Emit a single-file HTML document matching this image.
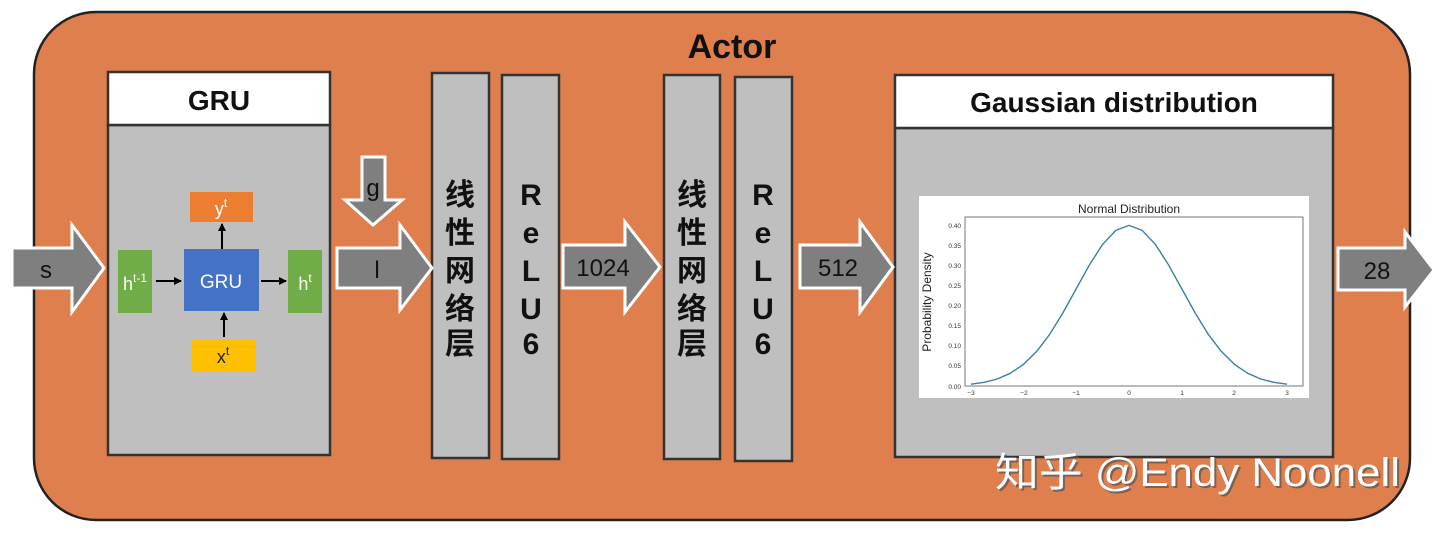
<!DOCTYPE html>
<html><head><meta charset="utf-8"><style>
html,body{margin:0;padding:0;background:#fff;width:1440px;height:537px;overflow:hidden}
svg{display:block}
text{font-family:"Liberation Sans","Noto Sans CJK SC",sans-serif}
</style></head><body>
<svg width="1440" height="537" viewBox="0 0 1440 537" xmlns="http://www.w3.org/2000/svg">
<defs>
<marker id="ah" markerWidth="8" markerHeight="8" refX="7" refY="4" orient="auto" markerUnits="userSpaceOnUse"><path d="M0,0 L8,4 L0,8z" fill="#000"/></marker>
</defs>
<rect x="34" y="12" width="1376" height="508" rx="62" fill="#DF7F4E" stroke="#222" stroke-width="2.5"/>
<text x="732" y="58" font-size="34" font-weight="bold" text-anchor="middle" fill="#111">Actor</text>

<rect x="108" y="125" width="222" height="330" fill="#BFBFBF" stroke="#333" stroke-width="2.5"/>
<rect x="108" y="72" width="222" height="53" fill="#fff" stroke="#333" stroke-width="2.5"/>
<text x="219" y="110" font-size="28" font-weight="bold" text-anchor="middle" fill="#111">GRU</text>
<rect x="118" y="250" width="34" height="63" fill="#70AD47"/>
<text x="135" y="290" font-size="18" text-anchor="middle" fill="#fff">h<tspan font-size="12" dy="-8">t-1</tspan></text>
<rect x="184" y="249" width="75" height="62" fill="#4472C4"/>
<text x="221" y="288" font-size="19" text-anchor="middle" fill="#fff">GRU</text>
<rect x="288" y="250" width="34" height="63" fill="#70AD47"/>
<text x="305" y="290" font-size="18" text-anchor="middle" fill="#fff">h<tspan font-size="12" dy="-8">t</tspan></text>
<rect x="190" y="192" width="63" height="30" fill="#ED7D31"/>
<text x="221" y="215" font-size="18" text-anchor="middle" fill="#fff">y<tspan font-size="12" dy="-8">t</tspan></text>
<rect x="192" y="340" width="63" height="31" fill="#FFC000"/>
<text x="223" y="363" font-size="18" text-anchor="middle" fill="#222">x<tspan font-size="12" dy="-8">t</tspan></text>
<g stroke="#000" stroke-width="2" marker-end="url(#ah)">
<line x1="156" y1="281" x2="181" y2="281"/>
<line x1="261" y1="281" x2="286" y2="281"/>
<line x1="222" y1="249" x2="222" y2="224"/>
<line x1="224" y1="337" x2="224" y2="313"/>
</g>

<g fill="#BFBFBF" stroke="#333" stroke-width="2.5">
<rect x="432" y="73" width="57" height="385"/>
<rect x="502" y="75" width="57" height="384"/>
<rect x="664" y="75" width="56" height="384"/>
<rect x="735" y="77" width="57" height="384"/>
</g>
<g font-size="30" font-weight="bold" text-anchor="middle" fill="#111">
<text x="460" y="205">线</text><text x="460" y="243">性</text><text x="460" y="281">网</text><text x="460" y="319">络</text><text x="460" y="354">层</text>
<text x="531" y="205">R</text><text x="531" y="243">e</text><text x="531" y="281">L</text><text x="531" y="319">U</text><text x="531" y="354">6</text>
<text x="692" y="205">线</text><text x="692" y="243">性</text><text x="692" y="281">网</text><text x="692" y="319">络</text><text x="692" y="354">层</text>
<text x="763" y="205">R</text><text x="763" y="243">e</text><text x="763" y="281">L</text><text x="763" y="319">U</text><text x="763" y="354">6</text>
</g>

<rect x="895" y="128" width="438" height="329" fill="#BFBFBF" stroke="#333" stroke-width="2.5"/>
<rect x="895" y="75" width="438" height="53" fill="#fff" stroke="#333" stroke-width="2.5"/>
<text x="1114" y="112" font-size="28" font-weight="bold" text-anchor="middle" fill="#111">Gaussian distribution</text>
<rect x="919" y="196" width="390" height="202" fill="#fff"/>
<rect x="965" y="217" width="338" height="169" fill="none" stroke="#777" stroke-width="1"/>
<text x="1129" y="213" font-size="12" text-anchor="middle" fill="#222">Normal Distribution</text>
<text transform="translate(931,302) rotate(-90)" font-size="12" text-anchor="middle" fill="#222">Probability Density</text>
<g font-size="6.5" fill="#333" text-anchor="end">
<text x="961" y="228">0.40</text><text x="961" y="248">0.35</text><text x="961" y="268">0.30</text><text x="961" y="288">0.25</text><text x="961" y="308">0.20</text><text x="961" y="328">0.15</text><text x="961" y="348">0.10</text><text x="961" y="368">0.05</text><text x="961" y="389">0.00</text>
</g>
<g font-size="6.5" fill="#333" text-anchor="middle">
<text x="971" y="395">−3</text><text x="1024" y="395">−2</text><text x="1076" y="395">−1</text><text x="1129" y="395">0</text><text x="1182" y="395">1</text><text x="1234" y="395">2</text><text x="1287" y="395">3</text>
</g>
<polyline fill="none" stroke="#3A7FA8" stroke-width="1.4" stroke-linejoin="round" points="971,384.2 984.2,382.3 997.3,379 1010.5,373.2 1023.6,364.3 1036.8,351.3 1050,333.9 1063.1,312.5 1076.3,288.6 1089.5,264.8 1102.7,244.3 1115.8,230.4 1129,225.4 1142.2,230.4 1155.3,244.3 1168.5,264.8 1181.7,288.6 1194.9,312.5 1208,333.9 1221.2,351.3 1234.4,364.3 1247.5,373.2 1260.7,379 1273.8,382.3 1287,384.2"/>

<g fill="#7F7F7F" stroke="#fff" stroke-width="3" stroke-linejoin="miter">
<path d="M12,248 L72,248 L72,225 L104,268 L72,312 L72,288 L12,288 Z"/>
<path d="M337,248 L400,248 L400,225 L432,268 L400,310 L400,288 L337,288 Z"/>
<path d="M362,157 L385,157 L385,200 L402,200 L373,225 L345,200 L362,200 Z"/>
<path d="M563,245 L625,245 L625,222 L660,267 L625,312 L625,288 L563,288 Z"/>
<path d="M800,245 L860,245 L860,222 L893,267 L860,312 L860,288 L800,288 Z"/>
<path d="M1338,248 L1405,248 L1405,232 L1434,270 L1405,307 L1405,290 L1338,290 Z"/>
</g>
<g font-size="24" fill="#111" text-anchor="middle">
<text x="46" y="278">s</text>
<text x="377" y="278">l</text>
<text x="373" y="196">g</text>
<text x="603" y="276">1024</text>
<text x="838" y="276">512</text>
<text x="1377" y="279">28</text>
</g>

<text x="997" y="488" font-size="40" fill="#555" opacity="0.7" textLength="405" lengthAdjust="spacingAndGlyphs">知乎 @Endy Noonell</text>
<text x="995" y="486" font-size="40" fill="#fff" textLength="405" lengthAdjust="spacingAndGlyphs">知乎 @Endy Noonell</text>
</svg>
</body></html>
